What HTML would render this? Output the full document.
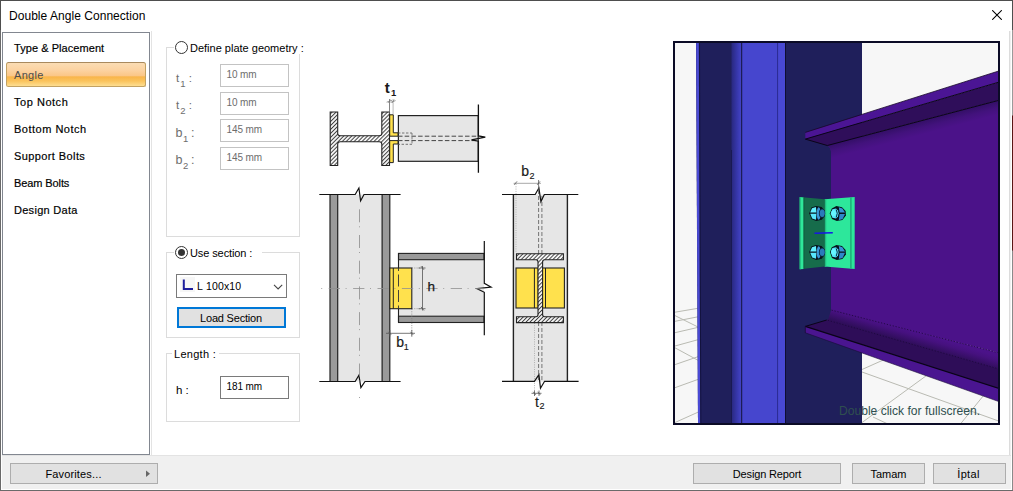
<!DOCTYPE html>
<html><head><meta charset="utf-8"><title>Double Angle Connection</title>
<style>
*{box-sizing:border-box;margin:0;padding:0}
html,body{width:1013px;height:491px;overflow:hidden;background:#fff}
body{font-family:"Liberation Sans",sans-serif;font-size:11px;color:#000;position:relative}
#win{position:absolute;left:0;top:0;width:1013px;height:491px;border:1px solid #6a6a6a;border-top-color:#4e4e4e;background:#fff}
.abs{position:absolute}
#title{left:9px;top:9px;font-size:12px;line-height:15px;white-space:nowrap;letter-spacing:.04px}
#close{left:992px;top:10px;width:10px;height:10px}
#bottom{left:2px;top:455px;width:1009px;height:34px;background:#f0f0f0;border-top:1px solid #e3e3e3}
#rstrip{left:1009px;top:31px;width:2px;height:424px;background:linear-gradient(90deg,#dcdcdc 50%,#f0f0f0 50%)}
#nav{left:2px;top:32px;width:148px;height:423px;border:1px solid #828790;background:#fff}
#navline{left:151px;top:31px;width:1px;height:424px;background:#e3e3e3}
.ni{position:absolute;left:11px;font-size:11px;line-height:14px;white-space:nowrap;-webkit-text-stroke:.18px #000}
#sel{left:3px;top:29px;width:140px;height:25px;border:1px solid #c3a262;border-top-color:#a98a5e;border-radius:2.5px;background:linear-gradient(#fbddb4 0%,#fcd3a2 30%,#fbc686 56%,#f9b54a 60%,#fbc35c 78%,#fdde92 100%)}
.gb{position:absolute;border:1px solid #dcdcdc}
.gl{position:absolute;background:#fff;font-size:11px;line-height:13px;white-space:nowrap;padding:0 2px 0 1px}
.radio{position:absolute;width:13px;height:13px;border:1px solid #333;border-radius:50%;background:#fff}
.radio.on::after{content:"";position:absolute;left:2px;top:2px;width:7px;height:7px;border-radius:50%;background:#333}
.in{position:absolute;left:220px;width:69px;height:23px;border:1px solid #c3c3c3;background:#fff;font-size:10px;line-height:19px;padding-left:5.5px;color:#6d6d6d;white-space:nowrap;letter-spacing:-.1px}
.in.en{border-color:#7a7a7a;color:#000}
.lb{position:absolute;left:176px;font-size:11.5px;line-height:14px;color:#6d6d6d;white-space:nowrap}
.lb sub{font-size:9.5px;vertical-align:baseline;position:relative;top:5px;margin-left:1px}
.btn{position:absolute;height:21px;border:1px solid #adadad;background:#e1e1e1;font-size:11px;line-height:21px;text-align:center;white-space:nowrap}
</style></head><body>
<div id="win">
<div style="position:absolute;left:-1px;top:-1px;width:1013px;height:491px">
<div class="abs" id="title">Double Angle Connection</div>
<svg class="abs" id="close" viewBox="0 0 10 10"><path d="M0.2 0.2 L9.8 9.8 M9.8 0.2 L0.2 9.8" stroke="#000" stroke-width="1.05" fill="none"/></svg>
<div class="abs" id="rstrip"></div>
<div class="abs" style="left:1012px;top:30px;width:1px;height:460px;background:linear-gradient(#9a9a9a 0,#9a9a9a 85px,#5a1515 86px,#5a1515 220px,#8a8a8a 221px)"></div>
<div class="abs" style="left:0;top:0;width:1px;height:30px;background:#4e4e4e"></div>
<div class="abs" style="left:1012px;top:0;width:1px;height:30px;background:#4e4e4e"></div>
<div class="abs" id="navline"></div>
<div class="abs" id="nav">
  <div class="abs" id="sel"></div>
  <div class="ni" style="top:8px;letter-spacing:.06px">Type &amp; Placement</div>
  <div class="ni" style="top:35px;color:#4d4d4d;-webkit-text-stroke:0;letter-spacing:.3px">Angle</div>
  <div class="ni" style="top:62px;letter-spacing:.53px">Top Notch</div>
  <div class="ni" style="top:89px;letter-spacing:.5px">Bottom Notch</div>
  <div class="ni" style="top:116px;letter-spacing:.4px">Support Bolts</div>
  <div class="ni" style="top:143px;letter-spacing:-.1px">Beam Bolts</div>
  <div class="ni" style="top:170px;letter-spacing:.28px">Design Data</div>
</div>

<!-- group 1 -->
<div class="gb" style="left:166px;top:47px;width:134px;height:190px"></div>
<div class="gl" style="left:174px;top:41px;width:132px">&nbsp;</div>
<div class="radio" style="left:175px;top:41px"></div>
<div class="gl" style="left:189px;top:42px;background:none;letter-spacing:0">Define plate geometry :</div>
<div class="lb" style="top:71px">t<sub>1</sub> :</div><div class="in" style="top:64px">10 mm</div>
<div class="lb" style="top:98px">t<sub>2</sub> :</div><div class="in" style="top:92px">10 mm</div>
<div class="lb" style="top:126px;font-size:12.5px;left:175.5px">b<sub style="margin-left:.5px">1</sub><span style="margin-left:-.8px"> :</span></div><div class="in" style="top:119px">145 mm</div>
<div class="lb" style="top:153px;font-size:12.5px;left:175.5px">b<sub style="margin-left:.5px">2</sub><span style="margin-left:-.8px"> :</span></div><div class="in" style="top:147px">145 mm</div>

<!-- group 2 -->
<div class="gb" style="left:166px;top:252px;width:134px;height:86px"></div>
<div class="gl" style="left:174px;top:246px;width:88px">&nbsp;</div>
<div class="radio on" style="left:175px;top:246px"></div>
<div class="gl" style="left:189px;top:247px;background:none;letter-spacing:-.1px">Use section :</div>
<div class="abs" style="left:176px;top:274px;width:111px;height:24px;border:1px solid #7a7a7a;background:#fff"></div>
<div class="abs" style="left:180px;top:277px;width:15px;height:15px;background:#f6f6f6"></div>
<svg class="abs" style="left:181px;top:278px" width="14" height="13" viewBox="181 278 14 13"><path d="M183.8 279.5 V289 H193" stroke="#1c1c9c" stroke-width="2" fill="none"/></svg>
<div class="abs" style="left:197px;top:280px;font-size:10.5px;line-height:13px;white-space:pre">L<span style="position:absolute;left:9px;top:0;letter-spacing:.12px">100x10</span></div>
<svg class="abs" style="left:272px;top:282px" width="12" height="9" viewBox="272 282 12 9"><path d="M274 284.8 L278.1 288.9 L282.2 284.8" stroke="#444" stroke-width="1.1" fill="none"/></svg>
<div class="btn" style="left:177px;top:307px;width:109px;height:21px;border:2px solid #0078d7;line-height:19px;letter-spacing:-.2px;padding-right:1px">Load Section</div>

<!-- group 3 -->
<div class="gb" style="left:166px;top:353px;width:134px;height:69px"></div>
<div class="gl" style="left:172px;top:348px;padding:0 3px 0 2px;letter-spacing:.28px">Length :</div>
<div class="lb" style="top:383px;color:#000">h :</div><div class="in en" style="top:376px">181 mm</div>

<div class="abs" id="bottom"></div>
<div class="btn" style="left:10px;top:463px;width:148px;padding-right:21px;letter-spacing:.15px">Favorites...</div>
<svg class="abs" style="left:145px;top:469px" width="6" height="9" viewBox="145 469 6 9"><path d="M146 470.5 L150 473.7 L146 477 Z" fill="#666"/></svg>
<div class="btn" style="left:693px;top:463px;width:148px;letter-spacing:-.15px">Design Report</div>
<div class="btn" style="left:852px;top:463px;width:73px">Tamam</div>
<div class="btn" style="left:933px;top:463px;width:73px;letter-spacing:.3px;padding-right:2px">İptal</div>

<!--DIAGRAM_START-->
<svg class="abs" style="left:310px;top:75px" width="285" height="345" viewBox="310 75 285 345" font-family="'Liberation Sans',sans-serif">
<defs>
<pattern id="hat" width="2.8" height="2.8" patternUnits="userSpaceOnUse" patternTransform="rotate(-45)">
<rect width="2.8" height="2.8" fill="#fafafa"/><rect width="2.8" height="1" fill="#404040"/>
</pattern>
</defs>
<g stroke-linejoin="miter" stroke-linecap="butt">
<!-- ===== top plan view ===== -->
<rect x="398.4" y="115.6" width="79.8" height="45.7" fill="#e6e6e6" stroke="#222" stroke-width="1.2"/>
<path d="M330.2 112 H337.7 V133.5 Q337.7 135.7 340.2 135.7 H379.3 Q381.8 135.7 381.8 133.5 V112 H389.5 V165.5 H381.8 V144 Q381.8 141.8 379.3 141.8 H340.2 Q337.7 141.8 337.7 144 V165.5 H330.2 Z" fill="url(#hat)" stroke="#222" stroke-width="1.1"/>
<path d="M389.7 114.8 H393.3 V132.8 H398 V136.2 H389.7 Z" fill="#ffe14d" stroke="#222" stroke-width="1"/>
<path d="M389.7 162.6 H393.3 V144 H398 V140.6 H389.7 Z" fill="#ffe14d" stroke="#222" stroke-width="1"/>
<path d="M398 136.2 H478 M398 140.6 H478" stroke="#444" stroke-width="1" stroke-dasharray="4.5 2.2" fill="none"/>
<path d="M398 133 H412 M412 144.3 H398" stroke="#555" stroke-width="0.8" stroke-dasharray="2.4 1.6" fill="none"/><path d="M412 133 V144.3" stroke="#666" stroke-width="0.8" stroke-dasharray="2.4 1.6" fill="none"/>
<path d="M478.4 104.5 V136 L485.3 137.2 L471.5 139.8 L478.4 141.2 V172.8" stroke="#111" stroke-width="1.3" fill="none"/>
<path d="M389.5 99 V114" stroke="#666" stroke-width="0.8" fill="none"/><path d="M393.1 99 V114" stroke="#aaa" stroke-width="0.8" fill="none"/>
<path d="M386.6 102.2 L392 100.4 M390.6 102.4 L395.6 100.6 M388.4 103 L390.6 99.6 M392 103 L394.2 99.6" stroke="#777" stroke-width="0.7" fill="none"/>
<!-- ===== elevation ===== -->
<rect x="330" y="194.5" width="59.5" height="187" fill="#e6e6e6"/>
<rect x="330" y="194.5" width="7.7" height="187" fill="#9a9a9a"/>
<rect x="382" y="194.5" width="7.8" height="187" fill="#9a9a9a"/>
<path d="M330 194.5 V381.5 M337.7 194.5 V381.5 M382.1 194.5 V381.5 M389.8 194.5 V381.5" stroke="#222" stroke-width="1.2" fill="none"/>
<rect x="398.5" y="253.3" width="85.5" height="69.4" fill="#e6e6e6"/>
<rect x="398.5" y="253.4" width="85.5" height="6.3" fill="#999" stroke="#222" stroke-width="1.1"/>
<rect x="398.5" y="316.2" width="85.5" height="6.3" fill="#999" stroke="#222" stroke-width="1.1"/>
<path d="M398.5 253.3 V322.6" stroke="#222" stroke-width="1.1"/>
<path d="M319.3 194.5 H355.2 L358.9 188 L360.6 200.8 L364 194.5 H400.6" stroke="#111" stroke-width="1.2" fill="none"/>
<path d="M319.3 381.5 H355.2 L358.9 375.3 L360.9 387.6 L365 381.5 H400.6" stroke="#111" stroke-width="1.2" fill="none"/>
<path d="M484.3 241 V283.4 L491 287 L476.8 288.6 L484.3 292.3 V335.2" stroke="#111" stroke-width="1.2" fill="none"/>
<rect x="389.8" y="268" width="22" height="40.7" fill="#ffe14d" stroke="#222" stroke-width="1.1"/>
<path d="M393.3 268 V308.7" stroke="#222" stroke-width="1"/>
<path d="M398.5 268 V308.7" stroke="#333" stroke-width="0.9" stroke-dasharray="3 3.5 12 3.5 12 3.5"/>
<path d="M359.5 209.3 V384 M359.5 397 V398" stroke="#8c8c8c" stroke-width="0.8" stroke-dasharray="13 4 1 7.7" fill="none"/>
<path d="M319 288.5 H484" stroke="#909090" stroke-width="0.8" stroke-dasharray="11.3 5.6 1 6.5" stroke-dashoffset="14.7" fill="none"/>
<path d="M422.5 266 V310.5 M418.5 268 H425.5 M418.5 308.7 H425.5 M421 266.2 L424 269.8 M421 306.9 L424 310.5" stroke="#555" stroke-width="0.8" fill="none"/>
<path d="M412 268 H420 M412 308.7 H420 M411.8 309 V337" stroke="#777" stroke-width="0.7" stroke-dasharray="1 1.3" fill="none"/>
<path d="M386 333.3 H415 M389.8 330 V336.5 M411.8 330 V336.5 M388.4 331.8 L391.2 334.8 M410.4 331.8 L413.2 334.8" stroke="#555" stroke-width="0.8" fill="none"/>
<!-- ===== side view ===== -->
<rect x="513" y="194.5" width="54.6" height="187" fill="#e6e6e6"/>
<path d="M513.4 194.5 V381.5 M567.4 194.5 V381.5" stroke="#222" stroke-width="1.4" fill="none"/>
<path d="M538.6 196 V381 M541.9 196 V381" stroke="#666" stroke-width="0.9" stroke-dasharray="4 2" fill="none"/>
<path d="M516 184 V252 M534.5 323 V396" stroke="#999" stroke-width="0.7" stroke-dasharray="1 1.3" fill="none"/>
<rect x="516" y="268" width="22.2" height="40" fill="#ffe14d" stroke="#222" stroke-width="1.1"/>
<rect x="542.4" y="268" width="22" height="40" fill="#ffe14d" stroke="#222" stroke-width="1.1"/>
<path d="M534.4 268 V308 M545.5 268 V308" stroke="#222" stroke-width="1"/>
<path d="M516.5 253.8 H563.4 V259.8 H544.6 Q542.6 259.8 542.6 262 V314.6 Q542.6 316.8 544.6 316.8 H563.4 V322.6 H516.5 V316.8 H536 Q538 316.8 538 314.6 V262 Q538 259.8 536 259.8 H516.5 Z" fill="url(#hat)" stroke="#222" stroke-width="1.1"/>
<path d="M502 194.5 H535.2 L538.9 188 L540.9 201.6 L544.3 194.5 H578.3" stroke="#111" stroke-width="1.2" fill="none"/>
<path d="M502 381.3 H534.4 L538.9 374.6 L540.5 388.2 L544.6 381.3 H578.6" stroke="#111" stroke-width="1.2" fill="none"/>
<path d="M513.6 183.3 H541" stroke="#a8a8a8" stroke-width="1" fill="none"/><path d="M514.2 184.8 L517 181.4 M537.2 184.8 L540 181.4 M538.6 180 V194" stroke="#555" stroke-width="0.8" fill="none"/>
<path d="M531.5 393.3 H541.5 M534.5 390.5 V396 M539 390.5 V396 M533.2 391.8 L535.8 394.8 M537.7 391.8 L540.3 394.8" stroke="#555" stroke-width="0.8" fill="none"/>
</g>
<g fill="#1a1a1a" font-weight="bold">
<text x="384.8" y="93.2" font-size="15">t</text><text x="390.9" y="96" font-size="9.5">1</text>
<text x="427.6" y="291.2" font-size="13.5" font-weight="normal" stroke="#1a1a1a" stroke-width=".25">h</text>
<text x="396.2" y="347" font-size="14" font-weight="normal" stroke="#1a1a1a" stroke-width=".2">b</text><text x="403.8" y="350" font-size="9" font-weight="normal" stroke="#1a1a1a" stroke-width=".15">1</text>
<text x="521.3" y="175.8" font-size="14" font-weight="normal" stroke="#1a1a1a" stroke-width=".2">b</text><text x="529.4" y="179" font-size="9" font-weight="normal" stroke="#1a1a1a" stroke-width=".15">2</text>
<text x="535" y="406.6" font-size="14" font-weight="normal" stroke="#1a1a1a" stroke-width=".15">t</text><text x="539.4" y="409" font-size="9" font-weight="normal" stroke="#1a1a1a" stroke-width=".15">2</text>
</g>
</svg>
<!--DIAGRAM_END-->
<!--SCENE_START-->
<svg class="abs" style="left:673px;top:41px" width="327" height="384" viewBox="673 41 327 384">
<defs>
<linearGradient id="gfil" x1="0" x2="1" y1="0" y2="0"><stop offset="0" stop-color="#28287e"/><stop offset="0.5" stop-color="#3636a8"/><stop offset="1" stop-color="#4545cc"/></linearGradient>
<linearGradient id="gbf" gradientUnits="userSpaceOnUse" x1="900" y1="327" x2="894" y2="347"><stop offset="0" stop-color="#4b1289"/><stop offset="0.2" stop-color="#46117f"/><stop offset="0.62" stop-color="#2f0e5a"/><stop offset="1" stop-color="#2e0d58"/></linearGradient>
<linearGradient id="gtf" gradientUnits="userSpaceOnUse" x1="900" y1="126.4" x2="903.4" y2="139.4"><stop offset="0" stop-color="#330f66"/><stop offset="0.5" stop-color="#42127c"/><stop offset="1" stop-color="#4b1289"/></linearGradient>
<clipPath id="clipS"><rect x="675" y="43" width="323" height="380"/></clipPath>
</defs>
<rect x="673" y="41" width="327" height="384" fill="#0b0b26"/>
<rect x="675" y="43" width="323" height="380" fill="#f7f7f7"/>
<g clip-path="url(#clipS)">
<!-- floor grid -->
<g stroke="#b9bab2" stroke-width="1" fill="none">
<path d="M862 372 L1000 421.5"/>
<path d="M862 369.5 L890 357"/>
<path d="M930 373 L860 424"/>
<path d="M988 390 L958 427"/>
<path d="M873 417 L890 425"/>
<path d="M675 312.2 L698 308.3"/>
<path d="M675 315.6 L698 327"/>
<path d="M675 321.3 L698 316.8"/>
<path d="M675 332.7 L698 327.4"/>
<path d="M675 346 L698 339.7"/>
<path d="M675 347.8 L698 360.3"/>
<path d="M675 364.6 L698 356.7"/>
<path d="M675 387.7 L698 379.4"/>
<path d="M675 422.5 L698 412.2"/>
</g>
<!-- column -->
<polygon points="696,43 862,43 862,423 698,423" fill="#1f1f5b"/>
<polygon points="696.2,43 698.8,43 700.3,423 698,423" fill="#4a4ad4"/>
<rect x="731.5" y="43" width="10.5" height="380" fill="url(#gfil)"/>
<rect x="742" y="43" width="43.5" height="380" fill="#4646ce"/>
<rect x="778" y="43" width="7.5" height="380" fill="#4848d2"/>
<path d="M741.7 43 V423" stroke="#14143c" stroke-width="1"/>
<path d="M777.6 43 V423" stroke="#2a2a90" stroke-width="1"/>
<path d="M785.5 43 V423" stroke="#0e0e30" stroke-width="1"/>
<path d="M699.5 43 L700.8 423" stroke="#101036" stroke-width="0.8"/>
<path d="M731.5 150 V423" stroke="#17174a" stroke-width="0.8"/>
<!-- beam web -->
<path d="M827.3 145.5 L1000 100 L1000 353 L831 310.2 L831 152 Q830.8 147 827.3 145.5 Z" fill="#4b1289"/>
<path d="M827.3 145.5 L1000 100 L1000 114 L831 159 L831 152 Q830.8 147 827.3 145.5 Z" fill="url(#gtf)"/>
<!-- bottom flange fillet + top surface -->
<path d="M831 309 L1000 353 L1000 390 L805.3 326.4 L826.7 320 Q830.8 318.5 831 314 Z" fill="url(#gbf)"/>
<polygon points="827.9,320.3 1000,369.5 1000,389 805.3,326.4" fill="#2e0d58"/>
<polygon points="831,310.5 1000,353 1000,369.5 828,320.3" fill="url(#gbf)"/>
<!-- bottom flange edge -->
<polygon points="805.3,326.4 1000,388.8 1000,402 805.3,332.8" fill="#4a1590"/>
<path d="M805.3 326.4 L1000 388.8" stroke="#0a0418" stroke-width="1.2"/>
<path d="M805.3 332.8 L1000 402" stroke="#1a0a38" stroke-width="0.6"/>
<path d="M805.3 326.4 L826.7 320" stroke="#0a0418" stroke-width="1"/>
<path d="M805.3 326 V333" stroke="#1a0a38" stroke-width="0.8"/>
<path d="M831.6 310.2 L1000 353.1" stroke="#1a0838" stroke-width="0.8" stroke-dasharray="1.2 1.8"/>
<path d="M827.9 320.3 L1000 369.3" stroke="#1a0838" stroke-width="0.8" stroke-dasharray="1.2 1.8"/>
<!-- top flange -->
<polygon points="805.3,139.1 1000,81.8 1000,100 827.3,145.5" fill="#2f0e5a"/>
<polygon points="805.3,132.4 1000,70.6 1000,81.8 805.3,139.1" fill="#4b1594"/>
<path d="M805.3 132.4 L1000 70.6" stroke="#160828" stroke-width="0.8"/>
<path d="M805.3 139.1 L1000 81.8" stroke="#0a0418" stroke-width="1"/>
<path d="M827.3 145.5 L1000 100" stroke="#0a0418" stroke-width="1"/>
<path d="M805.3 139.1 L827.3 145.5" stroke="#0a0418" stroke-width="1"/>
<!-- angle cleat -->
<polygon points="799.7,197.1 824.6,199.2 824.6,266.5 799.7,269.3" fill="#166c4b"/>
<polygon points="799.7,197.1 803.8,197.4 803.8,268.9 799.7,269.3" fill="#2fe79a"/>
<polygon points="824.6,199.2 854.7,197.1 854.7,269 824.6,266.5" fill="#2de79b"/>
<polygon points="824.6,199.2 826.4,199.1 826.4,266.7 824.6,266.5" fill="#27d08c"/>
<polygon points="850.1,197.4 851.7,197.3 851.7,268.7 850.1,268.6" fill="#1fb07a"/>
<path d="M803.9 197.4 V268.9" stroke="#0f573b" stroke-width="0.9"/><path d="M824.7 199.2 V266.5" stroke="#105c3e" stroke-width="0.8"/><path d="M800.2 197.1 V269.3" stroke="#1fb47c" stroke-width="1"/>
<path d="M814.5 233.3 L832.8 232.8" stroke="#1717e6" stroke-width="1.4"/>
<g id="boltL">
<path d="M809.2 213.2 L811.4 207.6 L816 206.1 L821.6 207 L825 211 L825 215.4 L821.8 219.8 L816.2 221 L811.6 219.2 Z" fill="#07121c"/>
<path d="M810.2 212.6 L812 208.3 L816 207.1 L816.4 212.6 Z" fill="#62f0ff"/>
<path d="M810.2 213.8 L816.4 213.8 L816 219.8 L812.2 218.6 Z" fill="#58e6fc"/>
<ellipse cx="818.7" cy="213.5" rx="2" ry="6.2" fill="#3a98d8"/>
<ellipse cx="822" cy="213.3" rx="3.1" ry="4.5" fill="#0c2a44"/>
<ellipse cx="822.2" cy="213.3" rx="2.5" ry="3.7" fill="#2a7aba"/>
</g>
<g id="boltR">
<path d="M829.9 213.2 L831.8 208.4 L836.4 206.1 L842 207.2 L845.6 211 L845.9 215.6 L842.4 220 L836.8 221.1 L832 219 Z" fill="#07121c"/>
<path d="M830.8 213.2 L832.4 209.2 L836 208.4 L838 210.4 L838.6 213.2 L838 216.6 L836 218.6 L832.4 217.8 Z" fill="#55e4fa"/>
<ellipse cx="833.5" cy="213.2" rx="2.4" ry="3" fill="#66f6ff"/>
<path d="M836.2 209.6 Q838.4 213.2 836.2 217.4" stroke="#0c2a44" stroke-width="1" fill="none"/>
<path d="M838.8 207.2 L842.4 208.4 L845 212.6 L839.6 212.6 Z" fill="#3792d6"/>
<path d="M839.6 213.9 L845 213.9 L842.6 219 L838.8 220.2 Z" fill="#2f86ca"/>
</g>
<use href="#boltL" y="38.9"/>
<use href="#boltR" y="38.9"/>
</g>
<text x="839" y="415" font-family="'Liberation Sans',sans-serif" font-size="13" fill="#2f4f4f" textLength="141" lengthAdjust="spacingAndGlyphs" style="font-weight:400">Double click for fullscreen.</text>
</svg>
<!--SCENE_END-->
</div>
</div>
</body></html>
